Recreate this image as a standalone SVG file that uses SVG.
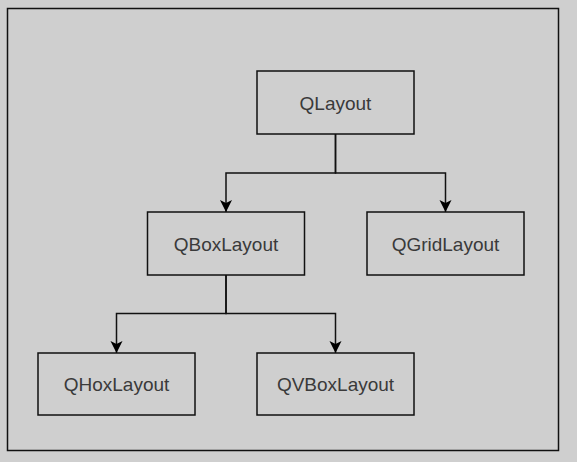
<svg xmlns="http://www.w3.org/2000/svg" width="577" height="462" viewBox="0 0 577 462">
  <defs>
    <marker id="arrow" markerUnits="userSpaceOnUse" markerWidth="13" markerHeight="12" refX="12" refY="6" orient="auto" overflow="visible">
      <path d="M0,0 L12,6 L0,12 L3,6 Z" fill="#000"/>
    </marker>
    <style>
      .node rect { fill: none; stroke: #111; stroke-width: 1.5; }
      .node text { font-family: "Liberation Sans", Arial, sans-serif; font-size: 19px; fill: #3a3a3a; text-anchor: middle; }
      .edge { fill: none; stroke: #111; stroke-width: 1.5; marker-end: url(#arrow); }
    </style>
  </defs>
  <rect x="0" y="0" width="577" height="462" fill="#cfcfcf"/>
  <rect id="frame" x="7.5" y="8.5" width="551" height="442" fill="none" stroke="#111" stroke-width="1.5"/>

  <g id="connectors">
    <path class="edge" d="M335.5,134 V173 H226 V212"/>
    <path class="edge" d="M335.5,134 V173 H445.5 V212"/>
    <path class="edge" d="M226,275 V313.5 H116.5 V353"/>
    <path class="edge" d="M226,275 V313.5 H335.5 V353"/>
  </g>

  <g id="QLayout" class="node">
    <rect x="257" y="71" width="157" height="63"/>
    <text x="335.5" y="109.5">QLayout</text>
  </g>
  <g id="QBoxLayout" class="node">
    <rect x="147.5" y="212" width="157" height="63"/>
    <text x="226" y="250.5">QBoxLayout</text>
  </g>
  <g id="QGridLayout" class="node">
    <rect x="367" y="212" width="157" height="63"/>
    <text x="445.5" y="250.5">QGridLayout</text>
  </g>
  <g id="QHoxLayout" class="node">
    <rect x="38" y="353" width="157" height="62"/>
    <text x="116.5" y="391">QHoxLayout</text>
  </g>
  <g id="QVBoxLayout" class="node">
    <rect x="257" y="353" width="157" height="62"/>
    <text x="335.5" y="391">QVBoxLayout</text>
  </g>
</svg>
